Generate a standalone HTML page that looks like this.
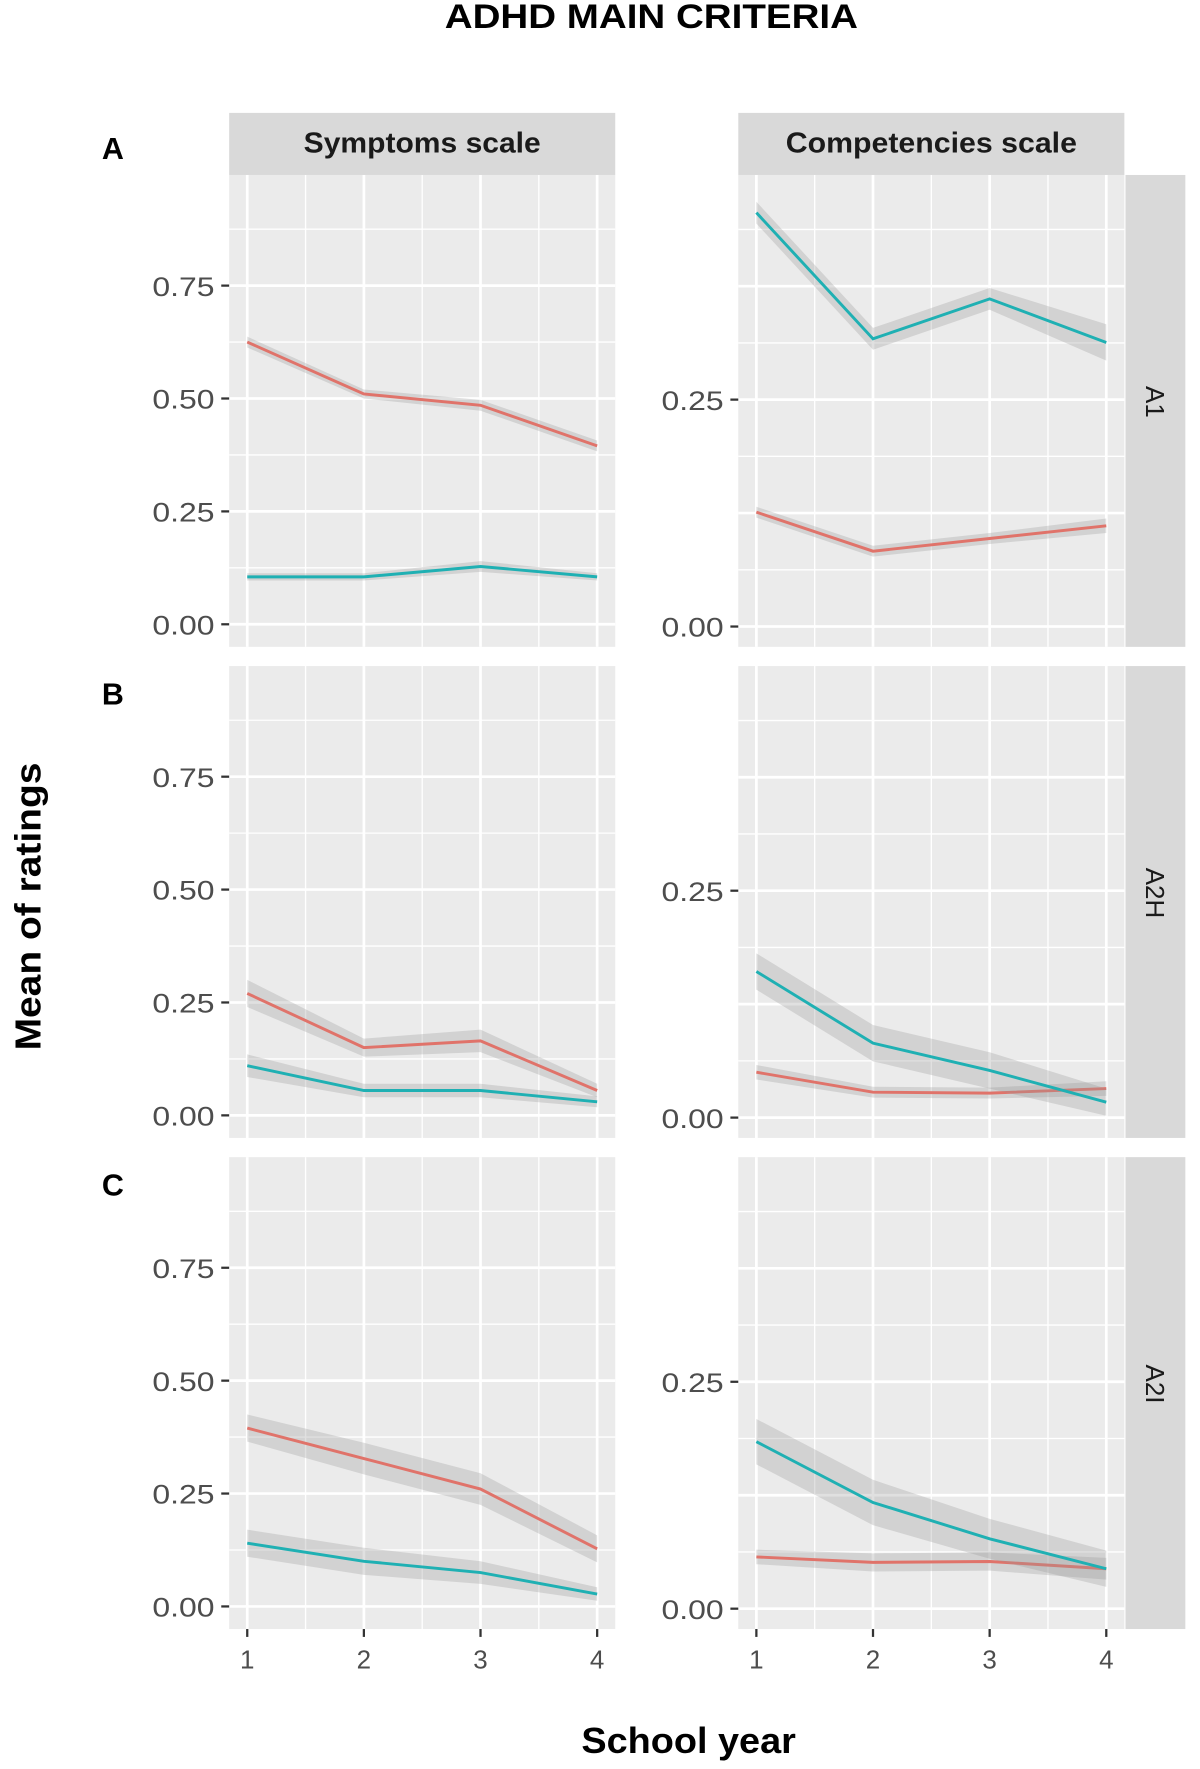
<!DOCTYPE html>
<html><head><meta charset="utf-8"><style>
html,body{margin:0;padding:0;background:#fff;}
svg{display:block;font-family:"Liberation Sans",sans-serif;}
</style></head><body>
<svg id="chart" width="1200" height="1769" viewBox="0 0 1063 1567" preserveAspectRatio="none" xmlns="http://www.w3.org/2000/svg"></svg>
<script>
const years = [1, 2, 3, 4];
const rows = ["A1", "A2H", "A2I"];
const rowLetters = ["A", "B", "C"];
const cols = ["Symptoms scale", "Competencies scale"];
const leftTicks = [0, 0.25, 0.5, 0.75];
const leftTickLabels = ["0.00", "0.25", "0.50", "0.75"];
const rightTicks = [0, 0.25];
const rightTickLabels = ["0.00", "0.25"];
// series values [row][col]
const redSym = [[0.625, 0.51, 0.485, 0.395], [0.27, 0.15, 0.165, 0.055], [0.395, 0.3275, 0.26, 0.1275]];
const tealSym = [[0.105, 0.105, 0.128, 0.105], [0.11, 0.055, 0.055, 0.03], [0.14, 0.1, 0.075, 0.0275]];
const redComp = [[0.126, 0.083, 0.097, 0.111], [0.05, 0.028, 0.027, 0.032], [0.057, 0.051, 0.052, 0.044]];
const tealComp = [[0.456, 0.317, 0.361, 0.313], [0.161, 0.082, 0.052, 0.017], [0.184, 0.117, 0.077, 0.044]];
const redSymSe = [[0.012, 0.01, 0.012, 0.012], [0.03, 0.02, 0.025, 0.015], [0.03, 0.035, 0.035, 0.03]];
const tealSymSe = [[0.008, 0.008, 0.012, 0.008], [0.025, 0.015, 0.015, 0.012], [0.03, 0.03, 0.025, 0.015]];
const redCompSe = [[0.006, 0.006, 0.006, 0.008], [0.008, 0.006, 0.006, 0.008], [0.008, 0.01, 0.01, 0.012]];
const tealCompSe = [[0.012, 0.012, 0.012, 0.02], [0.02, 0.02, 0.02, 0.015], [0.025, 0.025, 0.022, 0.02]];

const svg = document.getElementById('chart');
const NS = 'http://www.w3.org/2000/svg';
function mk(tag, attrs, parent) {
  const e = document.createElementNS(NS, tag);
  for (const k in attrs) e.setAttribute(k, attrs[k]);
  (parent || svg).appendChild(e);
  return e;
}
const colX = [203, 654], panelW = 342;
const rowY = [155, 590, 1025], panelH = 418;
const xMin = 0.845, xMax = 4.155;
const leftDom = [-0.05, 0.995], rightDom = [-0.0224, 0.4975];

let t = mk('text', {x: 577, y: 25, 'text-anchor': 'middle', 'font-size': 30, 'font-weight': 'bold', fill: '#000', textLength: 366, lengthAdjust: 'spacingAndGlyphs'});


t.textContent = 'ADHD MAIN CRITERIA';

t = mk('text', {x: 610, y: 1553, 'text-anchor': 'middle', 'font-size': 32, 'font-weight': 'bold', fill: '#000', textLength: 190, lengthAdjust: 'spacingAndGlyphs'});


t.textContent = 'School year';

t = mk('text', {x: 0, y: 0, 'text-anchor': 'middle', 'font-size': 32, 'font-weight': 'bold', fill: '#000', textLength: 255, lengthAdjust: 'spacingAndGlyphs', transform: 'translate(36,803) rotate(-90)'});


t.textContent = 'Mean of ratings';

cols.forEach((c, ci) => {
  const r = mk('rect', {x: colX[ci], y: 100, width: panelW, height: 55, fill: '#d9d9d9'});
  
  
  const tx = mk('text', {x: colX[ci] + panelW / 2, y: 135, 'text-anchor': 'middle', 'font-size': 25, 'font-weight': 'bold', fill: '#1a1a1a', textLength: ci === 0 ? 210 : 258, lengthAdjust: 'spacingAndGlyphs'});
  
  
  tx.textContent = c;
});

rows.forEach((rw, ri) => {
  const y0 = rowY[ri];
  const lt = mk('text', {x: 100, y: ri === 0 ? 141 : y0 + 34, 'text-anchor': 'middle', 'font-size': 27, 'font-weight': 'bold', fill: '#000'});
  
  
  lt.textContent = rowLetters[ri];
  const sr = mk('rect', {x: 997, y: y0, width: 53, height: panelH, fill: '#d9d9d9'});
  
  
  const st = mk('text', {x: 0, y: 0, 'text-anchor': 'middle', 'font-size': 23, fill: '#1a1a1a', transform: `translate(1015,${y0 + panelH / 2 - 8}) rotate(90)`});
  
  
  st.textContent = rw;

  [0, 1].forEach(ci => {
    const px = colX[ci];
    const dom = ci === 0 ? leftDom : rightDom;
    const sx = v => px + (v - xMin) / (xMax - xMin) * panelW;
    const sy = v => y0 + panelH - (v - dom[0]) / (dom[1] - dom[0]) * panelH;
    const g = mk('g', {});
    
    
    mk('rect', {x: px, y: y0, width: panelW, height: panelH, fill: '#ebebeb'}, g);
    const step = ci === 0 ? 0.125 : 0.0625;
    for (let v = 0; v <= dom[1] + 1e-9; v += step) {
      const major = ci === 0 ? Math.abs(v / 0.25 - Math.round(v / 0.25)) < 1e-6 : Math.abs(v / 0.125 - Math.round(v / 0.125)) < 1e-6;
      mk('line', {x1: px, x2: px + panelW, y1: sy(v), y2: sy(v), stroke: '#fff', 'stroke-width': major ? 2.4 : 1.2}, g);
    }
    for (let v = 1; v <= 4; v += 0.5) {
      mk('line', {x1: sx(v), x2: sx(v), y1: y0, y2: y0 + panelH, stroke: '#fff', 'stroke-width': Number.isInteger(v) ? 2.4 : 1.2}, g);
    }
    const ticks = ci === 0 ? leftTicks : rightTicks;
    const labels = ci === 0 ? leftTickLabels : rightTickLabels;
    ticks.forEach((tv, ti) => {
      mk('line', {x1: px - 7, x2: px, y1: sy(tv), y2: sy(tv), stroke: '#333', 'stroke-width': 2}, g);
      const tl = mk('text', {x: px - 13, y: sy(tv) + 9, 'text-anchor': 'end', 'font-size': 24, fill: '#4d4d4d', textLength: 55, lengthAdjust: 'spacingAndGlyphs'}, g);
      
      
      tl.textContent = labels[ti];
    });
    if (ri === 2) {
      years.forEach(yv => {
        mk('line', {x1: sx(yv), x2: sx(yv), y1: y0 + panelH, y2: y0 + panelH + 7, stroke: '#333', 'stroke-width': 2}, g);
        const xl = mk('text', {x: sx(yv), y: y0 + panelH + 35, 'text-anchor': 'middle', 'font-size': 23, fill: '#4d4d4d'}, g);
        
        
        xl.textContent = yv;
      });
    }
    const series = ci === 0
      ? [[redSym[ri], redSymSe[ri], '#e0736a', 'red-line'], [tealSym[ri], tealSymSe[ri], '#1fb0b3', 'teal-line']]
      : [[redComp[ri], redCompSe[ri], '#e0736a', 'red-line'], [tealComp[ri], tealCompSe[ri], '#1fb0b3', 'teal-line']];
    series.forEach(([vals, se, col, nm]) => {
      let up = years.map((yv, i) => sx(yv) + ',' + sy(vals[i] + se[i]));
      let dn = years.map((yv, i) => sx(yv) + ',' + sy(vals[i] - se[i])).reverse();
      const rb = mk('polygon', {points: up.concat(dn).join(' '), fill: '#999', 'fill-opacity': 0.3}, g);
      
      
      const ln = mk('polyline', {points: years.map((yv, i) => sx(yv) + ',' + sy(vals[i])).join(' '), fill: 'none', stroke: col, 'stroke-width': 2.6}, g);
      
      
    });
  });
});
</script>
</body></html>
